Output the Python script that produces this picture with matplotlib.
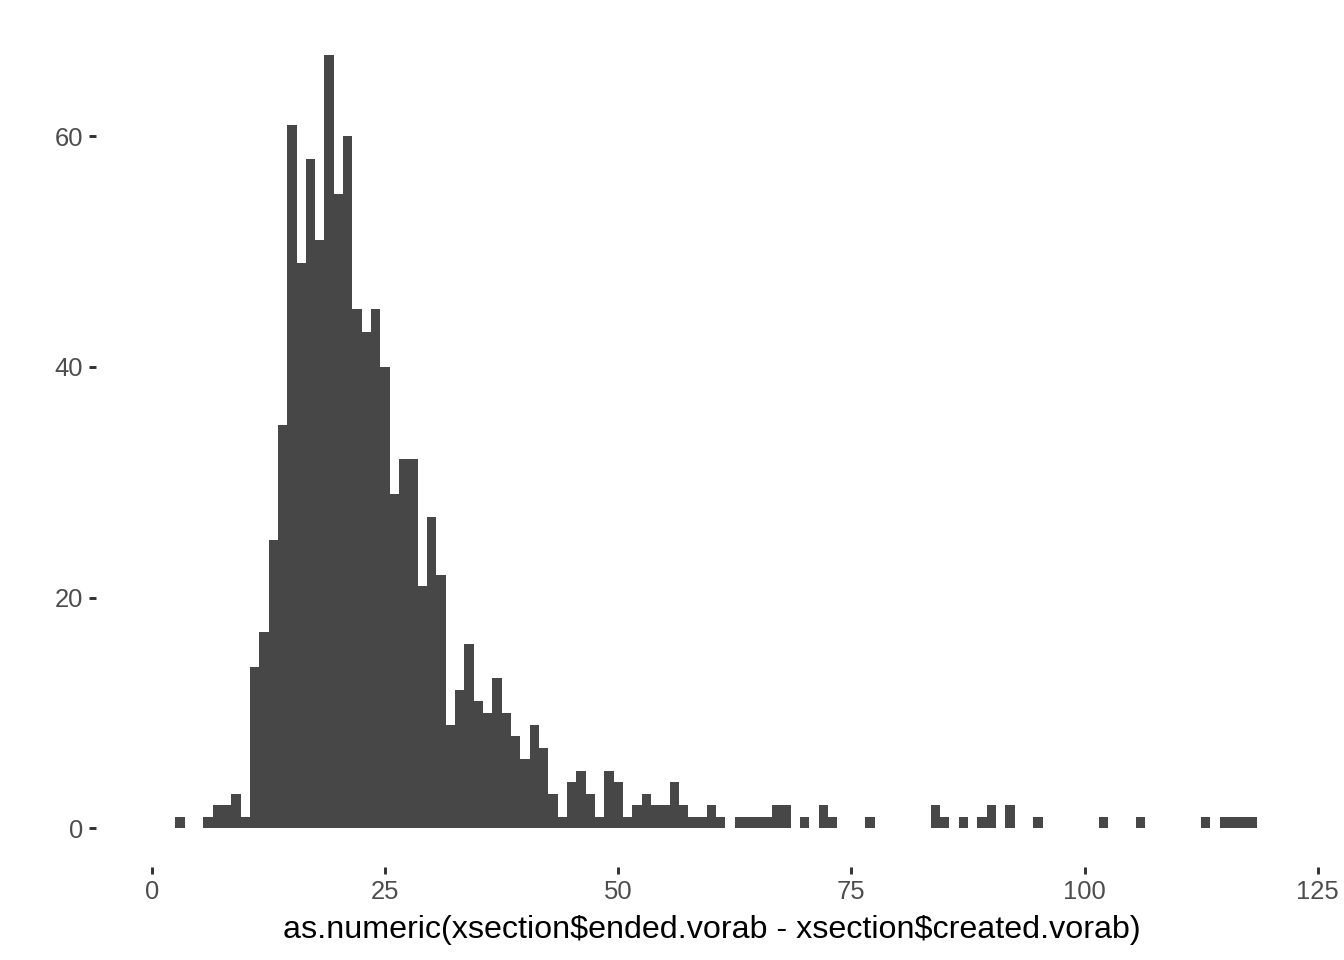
import numpy as np
import matplotlib
matplotlib.use("Agg")
import matplotlib.pyplot as plt

# ============================================================
# DATA — histogram counts, binwidth 1, first bin centred at 3
# ============================================================
FIRST_BIN = 3
BINWIDTH = 1
COUNTS = [
    1, 0, 0, 1, 2, 2, 3, 1, 14, 17,          # 3-12
    25, 35, 61, 49, 58, 51, 67, 55, 60, 45,  # 13-22
    43, 45, 40, 29, 32, 32, 21, 27, 22, 9,   # 23-32
    12, 16, 11, 10, 13, 10, 8, 6, 9, 7,      # 33-42
    3, 1, 4, 5, 3, 1, 5, 4, 1, 2,            # 43-52
    3, 2, 2, 4, 2, 1, 1, 2, 1, 0,            # 53-62
    1, 1, 1, 1, 2, 2, 0, 1, 0, 2,            # 63-72
    1, 0, 0, 0, 1, 0, 0, 0, 0, 0,            # 73-82
    0, 2, 1, 0, 1, 0, 1, 2, 0, 2,            # 83-92
    0, 0, 1, 0, 0, 0, 0, 0, 0, 1,            # 93-102
    0, 0, 0, 1, 0, 0, 0, 0, 0, 0,            # 103-112
    1, 0, 1, 1, 1, 1,                        # 113-118
]
X_LIMITS = (0, 120)
X_TICKS = [0, 25, 50, 75, 100, 125]
Y_TICKS = [0, 20, 40, 60]
X_LABEL = "as.numeric(xsection$ended.vorab - xsection$created.vorab)"

BAR_COLOR = "#474747"
TICK_LABEL_COLOR = "#4D4D4D"
TICK_COLOR = "#333333"


def render():
    plt.rcParams["font.family"] = ["Liberation Sans", "DejaVu Sans"]

    fig = plt.figure(figsize=(7, 5), dpi=192)
    W, H = 1344, 960
    left, right, bottom, top = 96, 1327, 867, 16.7
    ax = fig.add_axes([left / W, 1 - bottom / H, (right - left) / W, (bottom - top) / H])

    counts = np.array(COUNTS)
    centers = FIRST_BIN + BINWIDTH * np.arange(len(counts))
    ax.bar(centers, counts, width=BINWIDTH, color=BAR_COLOR, linewidth=0)

    # ggplot-style 5% expansion
    xr = X_LIMITS[1] - X_LIMITS[0]
    ax.set_xlim(X_LIMITS[0] - 0.05 * xr, X_LIMITS[1] + 0.05 * xr)
    ymax = counts.max()
    ax.set_ylim(-0.05 * ymax, ymax * 1.05)

    ax.set_xticks(X_TICKS)
    ax.set_yticks(Y_TICKS)
    ax.tick_params(axis="both", length=2.75, width=1.1, color=TICK_COLOR,
                   labelcolor=TICK_LABEL_COLOR, labelsize=9.6, pad=2.2)

    for s in ax.spines.values():
        s.set_visible(False)
    ax.grid(False)

    ax.set_xlabel(X_LABEL, fontsize=12.1, color="black", labelpad=4,
                  parse_math=False)

    fig.savefig("out.png", dpi=192, facecolor="white")
    plt.close(fig)


if __name__ == "__main__":
    render()
